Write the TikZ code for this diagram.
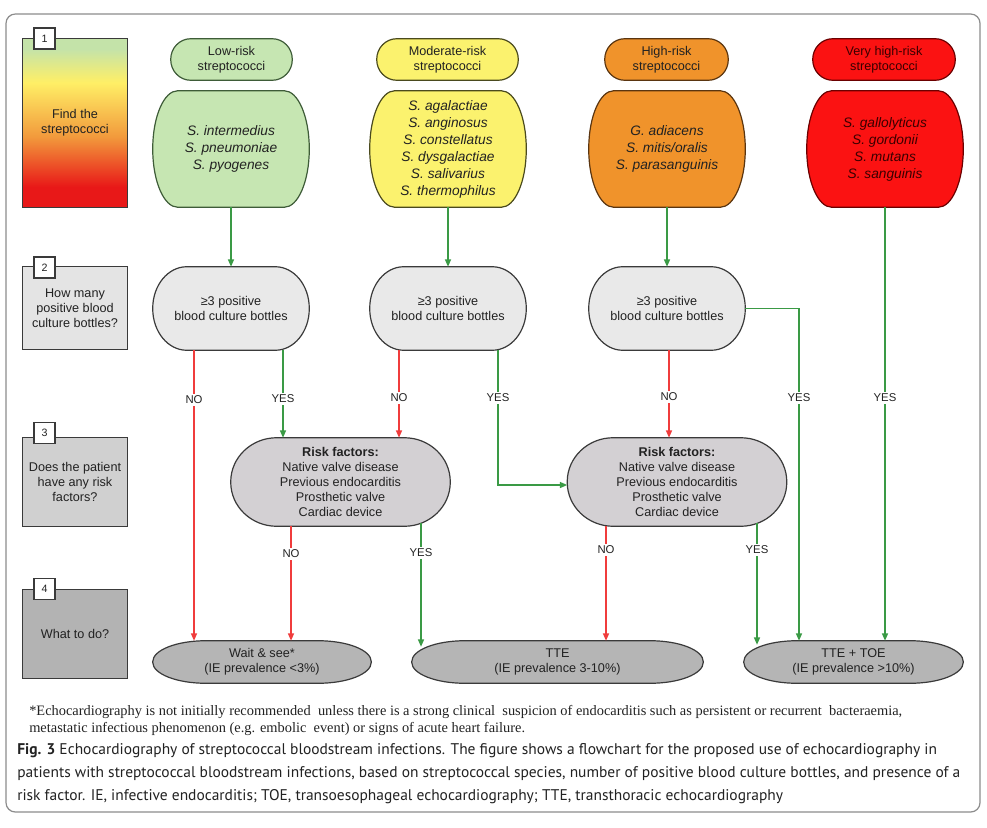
\documentclass[tikz,border=0pt]{standalone}
\usepackage{fontspec}
\setmainfont{Liberation Sans}
\newfontfamily\footfont{Liberation Serif}
\newfontfamily\capfont{PT Sans}
\usetikzlibrary{arrows.meta,calc}
\pgfdeclarelayer{bg}
\pgfsetlayers{bg,main}
\definecolor{lowfill}{HTML}{C6E6B2}
\definecolor{lowbd}{HTML}{3E5C38}
\definecolor{modfill}{HTML}{FBF26E}
\definecolor{modbd}{HTML}{4A4A1E}
\definecolor{highfill}{HTML}{F0932B}
\definecolor{highbd}{HTML}{5A3510}
\definecolor{vhfill}{HTML}{FB1212}
\definecolor{vhbd}{HTML}{6B0000}
\definecolor{vhtext}{HTML}{3A0000}
\definecolor{botfill}{HTML}{E9E9E9}
\definecolor{riskfill}{HTML}{D3D0D3}
\definecolor{ellfill}{HTML}{B5B5B5}
\definecolor{grayA}{HTML}{E4E4E4}
\definecolor{grayB}{HTML}{D0D0D0}
\definecolor{grayC}{HTML}{B3B3B3}
\definecolor{shapebd}{HTML}{3A3A3A}
\definecolor{txt}{HTML}{222222}
\definecolor{lgreen}{HTML}{3A9A45}
\definecolor{lred}{HTML}{F03C3C}
\definecolor{shR}{HTML}{E81818}
\definecolor{shO}{HTML}{F29A3C}
\definecolor{shY}{HTML}{FFEF66}
\definecolor{shG}{HTML}{C4E3A9}
\definecolor{framecol}{HTML}{8C8C8C}
\pgfdeclareverticalshading{findshade}{100bp}{color(0bp)=(shR); color(31bp)=(shR); color(46bp)=(shO); color(62bp)=(shY); color(72bp)=(shG); color(100bp)=(shG)}
\newcommand\ebox[4]{%
\begin{pgfonlayer}{bg}
\path[#4] ([xshift=#2]#1.north west) -- ([xshift=-#2]#1.north east)
 arc[start angle=90, end angle=0, x radius=#2, y radius=#3]
 -- ([yshift=#3]#1.south east)
 arc[start angle=0, end angle=-90, x radius=#2, y radius=#3]
 -- ([xshift=#2]#1.south west)
 arc[start angle=270, end angle=180, x radius=#2, y radius=#3]
 -- ([yshift=-#3]#1.north west)
 arc[start angle=180, end angle=90, x radius=#2, y radius=#3] -- cycle;
\end{pgfonlayer}}
\tikzset{
 base/.style={align=center, inner sep=0pt, text=txt, font=\fontsize{9.5}{11.4}\selectfont},
 stg/.style={base, minimum width=78pt},
 tab/.style={draw=shapebd, fill=white, line width=0.8pt, minimum size=15.75pt, inner sep=0pt, font=\fontsize{8}{9}\selectfont, text=txt},
 hdr/.style={base, minimum height=30.75pt},
 spc/.style={base, minimum width=117pt, minimum height=87pt, font=\fontsize{10.3}{12.75}\selectfont\itshape},
 bot/.style={base, minimum width=117pt, minimum height=62.25pt},
 risk/.style={base, minimum width=164.25pt, minimum height=66pt},
 ell/.style={base, minimum height=31.5pt},
 sbd/.style={draw=shapebd, line width=0.9pt},
 garr/.style={draw=lgreen, line width=1pt, -{Triangle[length=5.5pt,width=4.5pt]}},
 rarr/.style={draw=lred, line width=1pt, -{Triangle[length=5.5pt,width=4.5pt]}},
 lbl/.style={fill=white, inner sep=1.2pt, text=txt, font=\fontsize{8.5}{10}\selectfont},
 foot/.style={anchor=west, inner sep=0pt, text=txt, font=\footfont\fontsize{10.8}{12}\selectfont},
 captxt/.style={anchor=west, inner sep=0pt, text=txt, font=\capfont\fontsize{11.6}{13}\selectfont}
}
\begin{document}
\begin{tikzpicture}[x=0.75pt,y=-0.75pt]
\useasboundingbox (0,0) rectangle (987,827);
\begin{pgfonlayer}{bg}
\fill[white] (0,0) rectangle (987,827);
\end{pgfonlayer}
\draw[framecol, line width=0.9pt, rounded corners=7pt] (6,14) rectangle (980,812);

% stage boxes
\node[stg, minimum height=126pt] (s1) at (75,123) {Find the\\streptococci};
\begin{pgfonlayer}{bg}
\path[shade, shading=findshade, draw=shapebd, line width=0.9pt] (s1.south west) rectangle (s1.north east);
\end{pgfonlayer}
\node[stg, minimum height=61.5pt] (s2) at (75,308) {How many\\positive blood\\culture bottles?};
\begin{pgfonlayer}{bg}
\path[fill=grayA, draw=shapebd, line width=0.9pt] (s2.south west) rectangle (s2.north east);
\end{pgfonlayer}
\node[stg, minimum height=66pt] (s3) at (75,482) {Does the patient\\have any risk\\factors?};
\begin{pgfonlayer}{bg}
\path[fill=grayB, draw=shapebd, line width=0.9pt] (s3.south west) rectangle (s3.north east);
\end{pgfonlayer}
\node[stg, minimum height=66pt] (s4) at (75,634) {What to do?};
\begin{pgfonlayer}{bg}
\path[fill=grayC, draw=shapebd, line width=0.9pt] (s4.south west) rectangle (s4.north east);
\end{pgfonlayer}
\node[tab] (t1) at (44.5,38.5) {1};
\node[tab] (t2) at (44.5,267.5) {2};
\node[tab] (t3) at (44.5,433) {3};
\node[tab] (t4) at (44.5,589) {4};

% header pills
\node[hdr, minimum width=90.75pt] (h1) at (231.5,59.5) {Low-risk\\streptococci};
\ebox{h1}{15pt}{15.375pt}{fill=lowfill, draw=lowbd, line width=0.9pt}
\node[hdr, minimum width=105.75pt] (h2) at (447.5,59.5) {Moderate-risk\\streptococci};
\ebox{h2}{15pt}{15.375pt}{fill=modfill, draw=modbd, line width=0.9pt}
\node[hdr, minimum width=92.25pt] (h3) at (666.5,59.5) {High-risk\\streptococci};
\ebox{h3}{15pt}{15.375pt}{fill=highfill, draw=highbd, line width=0.9pt}
\node[hdr, minimum width=106.5pt, text=vhtext] (h4) at (884,59.5) {Very high-risk\\streptococci};
\ebox{h4}{15pt}{15.375pt}{fill=vhfill, draw=vhbd, line width=0.9pt}

% species boxes
\node[spc] (p1) at (231,149) {S. intermedius\\S. pneumoniae\\S. pyogenes};
\ebox{p1}{18.75pt}{43.5pt}{fill=lowfill, draw=lowbd, line width=0.9pt}
\node[spc] (p2) at (448,149) {S. agalactiae\\S. anginosus\\S. constellatus\\S. dysgalactiae\\S. salivarius\\S. thermophilus};
\ebox{p2}{18.75pt}{43.5pt}{fill=modfill, draw=modbd, line width=0.9pt}
\node[spc] (p3) at (667,149) {G. adiacens\\S. mitis/oralis\\S. parasanguinis};
\ebox{p3}{18.75pt}{43.5pt}{fill=highfill, draw=highbd, line width=0.9pt}
\node[spc, text=vhtext] (p4) at (885,149) {S. gallolyticus\\S. gordonii\\S. mutans\\S. sanguinis};
\ebox{p4}{18.75pt}{43.5pt}{fill=vhfill, draw=vhbd, line width=0.9pt}

% bottle pills
\node[bot] (b1) at (231,308.5) {≥3 positive\\blood culture bottles};
\ebox{b1}{25.5pt}{31.125pt}{fill=botfill, sbd}
\node[bot] (b2) at (448,308.5) {≥3 positive\\blood culture bottles};
\ebox{b2}{25.5pt}{31.125pt}{fill=botfill, sbd}
\node[bot] (b3) at (667,308.5) {≥3 positive\\blood culture bottles};
\ebox{b3}{25.5pt}{31.125pt}{fill=botfill, sbd}

% risk pills
\node[risk] (r1) at (340.5,482) {\textbf{Risk factors:}\\Native valve disease\\Previous endocarditis\\Prosthetic valve\\Cardiac device};
\ebox{r1}{34.5pt}{33pt}{fill=riskfill, sbd}
\node[risk] (r2) at (677,482) {\textbf{Risk factors:}\\Native valve disease\\Previous endocarditis\\Prosthetic valve\\Cardiac device};
\ebox{r2}{34.5pt}{33pt}{fill=riskfill, sbd}

% outcome ellipses
\node[ell, minimum width=163.5pt] (ws) at (262,662) {Wait \& see*\\(IE prevalence <3\%)};
\ebox{ws}{39.75pt}{15.75pt}{fill=ellfill, sbd}
\node[ell, minimum width=218.25pt] (te) at (557.5,662) {TTE\\(IE prevalence 3-10\%)};
\ebox{te}{39.75pt}{15.75pt}{fill=ellfill, sbd}
\node[ell, minimum width=164.25pt] (tt) at (853.5,662) {TTE + TOE\\(IE prevalence >10\%)};
\ebox{tt}{39.75pt}{15.75pt}{fill=ellfill, sbd}

% column coordinates
\coordinate (c194) at (194,0);
\coordinate (c283) at (283,0);
\coordinate (c399) at (399,0);
\coordinate (c498) at (498,0);
\coordinate (c669) at (669,0);
\coordinate (c799) at (799,0);
\coordinate (c291) at (291,0);
\coordinate (c421) at (421,0);
\coordinate (c606) at (606,0);
\coordinate (c757) at (757,0);
\coordinate (j2) at (498,485);

% connectors
\draw[garr] (p1.south) -- (b1.north);
\draw[garr] (p2.south) -- (b2.north);
\draw[garr] (p3.south) -- (b3.north);
\draw[rarr] (c194 |- b1.south) -- (c194 |- ws.north);
\draw[garr] (c283 |- b1.south) -- (c283 |- r1.north);
\draw[rarr] (c399 |- b2.south) -- (c399 |- r1.north);
\draw[garr] (c498 |- b2.south) -- (j2) -- (j2 -| r2.west);
\draw[rarr] (c669 |- b3.south) -- (c669 |- r2.north);
\draw[garr] (b3.east) -| (c799 |- tt.north);
\draw[garr] (p4.south) -- (p4.south |- tt.north);
\draw[rarr] (c291 |- r1.south) -- (c291 |- ws.north);
\draw[garr] ($(c421 |- r1.south)+(0,-3)$) -- ($(c421 |- te.north)+(0,6)$);
\draw[rarr] (c606 |- r2.south) -- (c606 |- te.north);
\draw[garr] ($(c757 |- r2.south)+(0,-3)$) -- ($(c757 |- tt.north)+(0,4)$);

% labels
\node[lbl] (l1) at (194,400) {NO};
\node[lbl] (l2) at (283,399) {YES};
\node[lbl] (l3) at (399,398) {NO};
\node[lbl] (l4) at (498,398) {YES};
\node[lbl] (l5) at (669,397) {NO};
\node[lbl] (l6) at (799,398) {YES};
\node[lbl] (l7) at (885,398) {YES};
\node[lbl] (l8) at (291,554) {NO};
\node[lbl] (l9) at (421,553) {YES};
\node[lbl] (l10) at (606,550) {NO};
\node[lbl] (l11) at (757,550) {YES};

% footnote
\node[foot] (f1) at (29,712) {*Echocardiography is not initially recommended\ \ unless there is a strong clinical\ \ suspicion of endocarditis such as persistent or recurrent\ \ bacteraemia,};
\node[foot] (f2) at (29,729) {metastatic infectious phenomenon (e.g. embolic\ \ event) or signs of acute heart failure.};

% caption
\node[captxt] (k1) at (17,751) {\textbf{Fig. 3} Echocardiography of streptococcal bloodstream infections. The figure shows a flowchart for the proposed use of echocardiography in};
\node[captxt] (k2) at (17,774) {patients with streptococcal bloodstream infections, based on streptococcal species, number of positive blood culture bottles, and presence of a};
\node[captxt] (k3) at (17,797) {risk factor. IE, infective endocarditis; TOE, transoesophageal echocardiography; TTE, transthoracic echocardiography};
\end{tikzpicture}
\end{document}
